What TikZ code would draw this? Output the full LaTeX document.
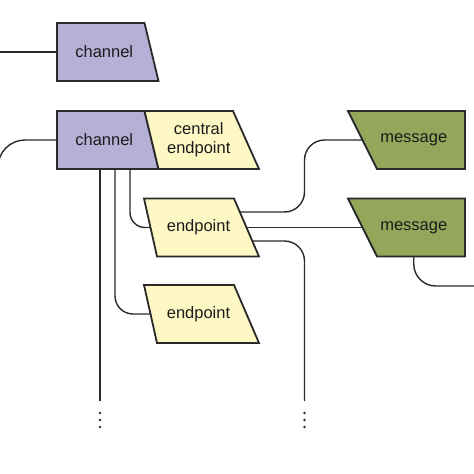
\documentclass[tikz,border=0pt]{standalone}
\usepackage{fontspec}
\setmainfont{Liberation Sans}
\usetikzlibrary{calc}
\pgfdeclarelayer{bg}
\pgfsetlayers{bg,main}
\definecolor{linec}{HTML}{2A2A2A}
\definecolor{textc}{HTML}{1C1C1C}
\definecolor{chanfill}{HTML}{B4B0D6}
\definecolor{endfill}{HTML}{FDF8C4}
\definecolor{msgfill}{HTML}{93A65A}
\tikzset{
  conn/.style={draw=linec, line width=1.4pt},
  boxline/.style={draw=linec, line width=1.8pt, line join=miter},
  lbl/.style={rectangle, inner sep=0pt, outer sep=0pt, minimum height=58pt,
    font=\fontsize{16.5}{19}\selectfont, text=textc, align=center},
  chanbox/.style={lbl, minimum width=94.5pt},
  endbox/.style={lbl, minimum width=96pt},
  msgbox/.style={lbl, minimum width=102.5pt},
  dotmark/.style={fill=linec}
}
\newcommand\drawtrap[6]{%
  \begin{pgfonlayer}{bg}
    \filldraw[boxline, fill=#2] ($(#1.north west)+(#3,0)$) -- ($(#1.north east)+(#4,0)$)
      -- ($(#1.south east)+(#5,0)$) -- ($(#1.south west)+(#6,0)$) -- cycle;
  \end{pgfonlayer}}
\begin{document}
\begin{tikzpicture}[x=1pt,y=-1pt]
\clip (0,0) rectangle (474,474);
% boxes
\node[chanbox] (ch1) at (104.25,52) {channel};
\drawtrap{ch1}{chanfill}{0}{-7}{7}{0}
\node[chanbox] (ch2) at (104.25,140) {channel};
\drawtrap{ch2}{chanfill}{0}{-7}{7}{0}
\node[chanbox] (cep) at (198.75,140) {central\\endpoint};
\drawtrap{cep}{endfill}{-7}{-13}{13}{7}
\node[endbox] (ep1) at (198.5,227.5) {endpoint};
\drawtrap{ep1}{endfill}{-6.5}{-12.5}{12.5}{6.5}
\node[endbox] (ep2) at (198.5,314) {endpoint};
\drawtrap{ep2}{endfill}{-6.5}{-12.5}{12.5}{6.5}
\node[msgbox] (msg1) at (413.75,140) {message};
\drawtrap{msg1}{msgfill}{-14.5}{0}{0}{14.5}
\node[msgbox] (msg2) at (413.75,227.5) {message};
\drawtrap{msg2}{msgfill}{-14.5}{0}{0}{14.5}
% free ends
\coordinate (in1) at (-2,52);
\coordinate (in2) at (-2,200);
\coordinate (d1) at (100,401);
\coordinate (d2) at (304.5,401);
\coordinate (out1) at (480,286);
% connectors
\draw[conn] (in1) -- (ch1.west);
\draw[conn, rounded corners=27pt] (in2) |- (ch2.west);
\draw[conn] ($(ch2.south west)+(43,0)$) -- (d1);
\draw[conn, rounded corners=18pt] ($(ch2.south west)+(58,0)$) |- (ep2.west);
\draw[conn, rounded corners=15pt] ($(ch2.south west)+(73,0)$) |- (ep1.west);
\draw[conn, rounded corners=20pt] ($(ep1.east)+(-6.7,-15.5)$) -| ($(msg1.west)+(-58,0)$) -- (msg1.west);
\draw[conn] (ep1.east) -- (msg2.west);
\draw[conn, rounded corners=20pt] ($(ep1.east)+(5.8,13.5)$) -| (d2);
\draw[conn, rounded corners=22pt] (msg2.south) |- (out1);
% continuation dots
\foreach \dy in {12,19,26} {
  \fill[dotmark] ($(d1)+(0,\dy)$) circle (1.4pt);
  \fill[dotmark] ($(d2)+(0,\dy)$) circle (1.4pt);
}
\end{tikzpicture}
\end{document}
